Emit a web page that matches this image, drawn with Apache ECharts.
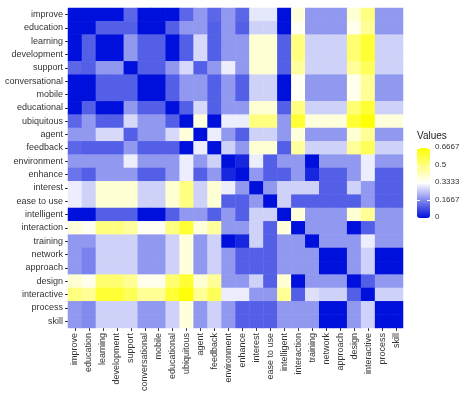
<!DOCTYPE html>
<html>
<head>
<meta charset="utf-8">
<title>Term distance heatmap</title>
<script src="https://cdn.jsdelivr.net/npm/echarts@6/dist/echarts.min.js"></script>
<style>
  html, body { margin: 0; padding: 0; background: #fff; }
  #chart { width: 474px; height: 394px; }
</style>
</head>
<body>
<div id="chart"></div>
<script>
// terms, same order on both axes (improve at top / left)
const terms = [
  'improve', 'education', 'learning', 'development', 'support', 'conversational',
  'mobile', 'educational', 'ubiquitous', 'agent', 'feedback', 'environment',
  'enhance', 'interest', 'ease to use', 'intelligent', 'interaction', 'training',
  'network', 'approach', 'design', 'interactive', 'process', 'skill'
];

// distance values, one row per term
const values = [
  [0, 0, 0, 0, 0.12, 0, 0, 0, 0.12, 0.19, 0.12, 0.19, 0.12, 0.30, 0.30, 0, 0.38, 0.19, 0.19, 0.19, 0.39, 0.50, 0.19, 0.19],
  [0, 0, 0.11, 0.11, 0.11, 0, 0, 0.11, 0.19, 0.19, 0.11, 0.19, 0.11, 0.27, 0.27, 0, 0.35, 0.19, 0.19, 0.19, 0.36, 0.47, 0.19, 0.19],
  [0, 0.11, 0, 0, 0.19, 0.11, 0.11, 0, 0.11, 0.28, 0.11, 0.19, 0.19, 0.39, 0.39, 0.11, 0.50, 0.27, 0.27, 0.27, 0.52, 0.60, 0.27, 0.27],
  [0, 0.11, 0, 0, 0.19, 0.11, 0.11, 0, 0.11, 0.28, 0.11, 0.19, 0.19, 0.39, 0.39, 0.11, 0.50, 0.27, 0.27, 0.27, 0.52, 0.60, 0.27, 0.27],
  [0.12, 0.11, 0.19, 0.19, 0, 0.11, 0.11, 0.19, 0.28, 0.11, 0.19, 0.31, 0.19, 0.39, 0.39, 0.11, 0.46, 0.27, 0.27, 0.27, 0.47, 0.55, 0.27, 0.27],
  [0, 0, 0.11, 0.11, 0.11, 0, 0, 0.11, 0.19, 0.19, 0.11, 0.19, 0.11, 0.27, 0.27, 0, 0.35, 0.19, 0.19, 0.19, 0.36, 0.47, 0.19, 0.19],
  [0, 0, 0.11, 0.11, 0.11, 0, 0, 0.11, 0.19, 0.19, 0.11, 0.19, 0.11, 0.27, 0.27, 0, 0.35, 0.19, 0.19, 0.19, 0.36, 0.47, 0.19, 0.19],
  [0, 0.11, 0, 0, 0.19, 0.11, 0.11, 0, 0.11, 0.28, 0.11, 0.19, 0.19, 0.39, 0.39, 0.11, 0.50, 0.27, 0.27, 0.27, 0.52, 0.60, 0.27, 0.27],
  [0.12, 0.19, 0.11, 0.11, 0.28, 0.19, 0.19, 0.11, 0, 0.38, 0, 0.31, 0.31, 0.50, 0.50, 0.19, 0.60, 0.38, 0.38, 0.38, 0.60, 0.66, 0.38, 0.38],
  [0.19, 0.19, 0.28, 0.28, 0.11, 0.19, 0.19, 0.28, 0.38, 0, 0.31, 0.19, 0.11, 0.27, 0.27, 0.19, 0.38, 0.19, 0.19, 0.19, 0.39, 0.47, 0.19, 0.19],
  [0.12, 0.11, 0.11, 0.11, 0.19, 0.11, 0.11, 0.11, 0, 0.31, 0, 0.27, 0.19, 0.39, 0.39, 0.11, 0.46, 0.27, 0.27, 0.27, 0.47, 0.55, 0.27, 0.27],
  [0.19, 0.19, 0.19, 0.19, 0.31, 0.19, 0.19, 0.19, 0.31, 0.19, 0.27, 0, 0.03, 0.31, 0.11, 0.19, 0.19, 0, 0.19, 0.19, 0.19, 0.31, 0.19, 0.19],
  [0.14, 0.11, 0.19, 0.19, 0.19, 0.11, 0.11, 0.19, 0.31, 0.11, 0.19, 0.03, 0, 0.19, 0.11, 0.11, 0.19, 0.03, 0.11, 0.11, 0.19, 0.31, 0.11, 0.11],
  [0.31, 0.27, 0.39, 0.39, 0.39, 0.27, 0.27, 0.39, 0.50, 0.27, 0.39, 0.31, 0.19, 0, 0.19, 0.27, 0.27, 0.27, 0.11, 0.11, 0.27, 0.19, 0.11, 0.11],
  [0.31, 0.27, 0.39, 0.39, 0.39, 0.27, 0.27, 0.39, 0.50, 0.27, 0.39, 0.11, 0.11, 0.19, 0, 0.27, 0.11, 0.11, 0.11, 0.11, 0.11, 0.19, 0.11, 0.11],
  [0, 0, 0.11, 0.11, 0.11, 0, 0, 0.11, 0.19, 0.19, 0.11, 0.19, 0.11, 0.27, 0.27, 0, 0.38, 0.19, 0.19, 0.19, 0.39, 0.47, 0.19, 0.19],
  [0.38, 0.35, 0.50, 0.50, 0.46, 0.35, 0.35, 0.50, 0.60, 0.38, 0.46, 0.19, 0.19, 0.27, 0.11, 0.38, 0, 0.19, 0.19, 0.19, 0, 0.11, 0.19, 0.19],
  [0.19, 0.19, 0.27, 0.27, 0.27, 0.19, 0.19, 0.27, 0.38, 0.19, 0.27, 0, 0.03, 0.27, 0.11, 0.19, 0.19, 0, 0.19, 0.19, 0.19, 0.31, 0.19, 0.19],
  [0.19, 0.16, 0.27, 0.27, 0.27, 0.19, 0.19, 0.27, 0.38, 0.19, 0.27, 0.19, 0.11, 0.11, 0.11, 0.19, 0.19, 0.19, 0, 0, 0.19, 0.27, 0, 0],
  [0.19, 0.16, 0.27, 0.27, 0.27, 0.19, 0.19, 0.27, 0.38, 0.19, 0.27, 0.19, 0.11, 0.11, 0.11, 0.19, 0.19, 0.19, 0, 0, 0.19, 0.27, 0, 0],
  [0.39, 0.36, 0.52, 0.52, 0.47, 0.36, 0.36, 0.52, 0.60, 0.39, 0.47, 0.19, 0.19, 0.27, 0.11, 0.39, 0, 0.19, 0.19, 0.19, 0, 0.11, 0.19, 0.19],
  [0.50, 0.47, 0.60, 0.60, 0.55, 0.47, 0.47, 0.60, 0.66, 0.47, 0.55, 0.31, 0.31, 0.19, 0.19, 0.47, 0.11, 0.29, 0.27, 0.27, 0.11, 0, 0.27, 0.27],
  [0.19, 0.17, 0.27, 0.27, 0.27, 0.19, 0.19, 0.27, 0.38, 0.19, 0.27, 0.19, 0.11, 0.11, 0.11, 0.19, 0.19, 0.19, 0, 0, 0.19, 0.27, 0, 0],
  [0.19, 0.17, 0.27, 0.27, 0.27, 0.19, 0.19, 0.27, 0.38, 0.19, 0.27, 0.19, 0.11, 0.11, 0.11, 0.19, 0.19, 0.19, 0, 0, 0.19, 0.27, 0, 0]
];

// colour bar ticks
const legendTicks = [0, 0.1667, 0.3333, 0.5, 0.6667];
const valueMin = 0;
const valueMax = 0.6667;

const chart = echarts.init(document.getElementById('chart'));

const cells = [];
values.forEach((row, y) => {
  row.forEach((v, x) => {
    cells.push([x, y, v]);
  });
});

// legend bar geometry
const barLeft = 417;
const barTop = 148;
const barWidth = 13;
const barHeight = 70;

const tickY = (t) => barTop + barHeight * (1 - (t - valueMin) / (valueMax - valueMin));

const tickTexts = legendTicks.map((t) => ({
  type: 'text',
  left: barLeft + 18,
  top: tickY(t) - 5,
  style: {
    text: String(t),
    fontSize: 8,
    fontFamily: 'Liberation Sans',
    fill: '#333',
  },
}));

// small white tick marks on both sides of the colour bar
const tickMarks = [];
legendTicks.forEach((t) => {
  const y = Math.round(tickY(t)) + 0.5;
  tickMarks.push({
    type: 'line',
    z: 200,
    shape: { x1: barLeft, y1: y, x2: barLeft + 3, y2: y },
    style: { stroke: '#fff', lineWidth: 1 },
  });
  tickMarks.push({
    type: 'line',
    z: 200,
    shape: { x1: barLeft + barWidth - 3, y1: y, x2: barLeft + barWidth, y2: y },
    style: { stroke: '#fff', lineWidth: 1 },
  });
});

const option = {
  backgroundColor: '#fff',
  animation: false,
  grid: {
    left: 68,
    top: 8,
    width: 335,
    height: 335,
  },
  xAxis: {
    type: 'category',
    data: terms,
    axisLine: { show: false },
    axisTick: { show: true, alignWithLabel: true, length: 3, lineStyle: { color: '#333' } },
    axisLabel: {
      rotate: 90,
      interval: 0,
      margin: 5,
      fontSize: 9,
      fontFamily: 'Liberation Sans',
      color: '#333',
    },
    splitLine: { show: false },
  },
  yAxis: {
    type: 'category',
    data: terms,
    inverse: true,
    axisLine: { show: false },
    axisTick: { show: true, alignWithLabel: true, length: 3, lineStyle: { color: '#333' } },
    axisLabel: {
      interval: 0,
      margin: 5,
      fontSize: 9,
      fontFamily: 'Liberation Sans',
      color: '#333',
    },
    splitLine: { show: false },
  },
  visualMap: {
    type: 'continuous',
    min: valueMin,
    max: valueMax,
    calculable: false,
    orient: 'vertical',
    left: barLeft,
    top: barTop,
    padding: 0,
    itemWidth: barWidth,
    itemHeight: barHeight,
    text: null,
    inRange: {
      color: ['#0010dc', '#ffffff', '#ffff00'],
    },
  },
  graphic: [
    {
      type: 'text',
      left: barLeft,
      top: 131,
      style: {
        text: 'Values',
        fontSize: 10,
        fontFamily: 'Liberation Sans',
        fill: '#222',
      },
    },
    ...tickTexts,
    ...tickMarks,
  ],
  series: [
    {
      type: 'heatmap',
      data: cells,
      itemStyle: { borderWidth: 0 },
      emphasis: { disabled: true },
    },
  ],
};

chart.setOption(option);
</script>
</body>
</html>
